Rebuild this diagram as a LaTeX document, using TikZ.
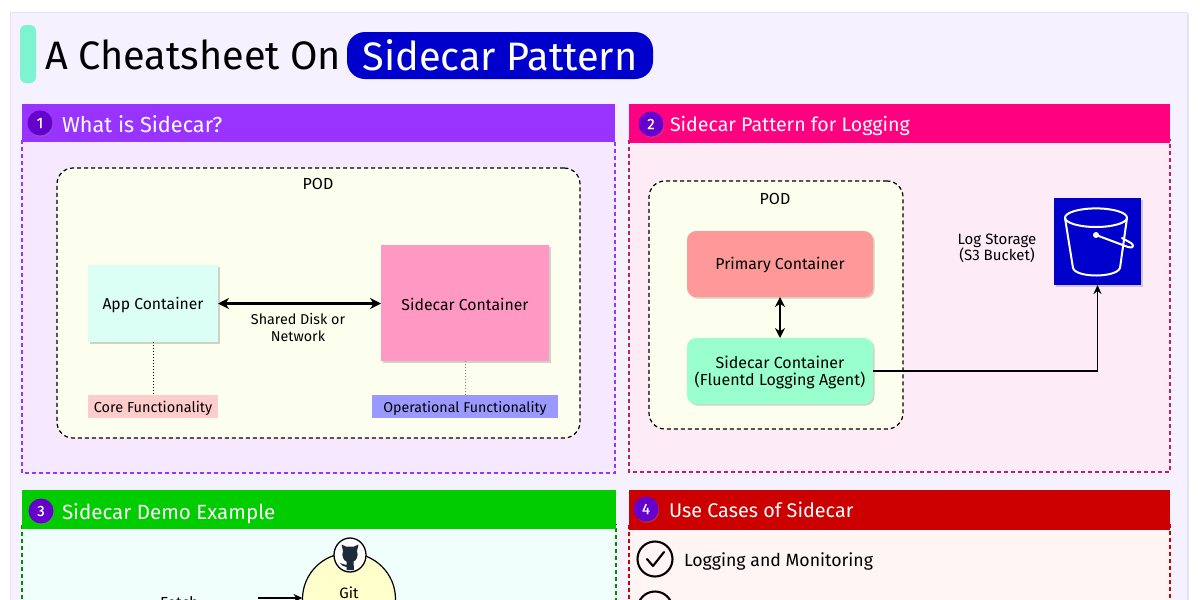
\documentclass[tikz,border=0pt]{standalone}
\usepackage{fontspec}
\setmainfont{Fira Sans}
\usetikzlibrary{shadows,arrows.meta,calc,shapes.geometric}
\definecolor{pagebg}{HTML}{F5F1FF}
\definecolor{pageedge}{HTML}{E6E2EF}
\definecolor{mint}{HTML}{7DF3D0}
\definecolor{deepblue}{HTML}{0000CC}
\definecolor{badge}{HTML}{6600CC}
\definecolor{hdpurple}{HTML}{9933FF}
\definecolor{hdpink}{HTML}{FF0080}
\definecolor{hdgreen}{HTML}{00CC00}
\definecolor{hdred}{HTML}{CC0000}
\definecolor{bdpurple}{HTML}{F6E8FF}
\definecolor{bdpink}{HTML}{FDEBF5}
\definecolor{bdgreen}{HTML}{F0FFFB}
\definecolor{bdred}{HTML}{FFF5F5}
\definecolor{podfill}{HTML}{FDFFEE}
\definecolor{appfill}{HTML}{DCFFF5}
\definecolor{sidefill}{HTML}{FF99C4}
\definecolor{corefill}{HTML}{FFCCCC}
\definecolor{opfill}{HTML}{9999FF}
\definecolor{primfill}{HTML}{FF9999}
\definecolor{sidegreen}{HTML}{99FFCC}
\definecolor{gitfill}{HTML}{FFFFCC}
\definecolor{catcol}{HTML}{1B2B3A}
\definecolor{dashpink}{HTML}{C0206A}
\tikzset{
  x=1pt,y=-1pt,
  every node/.style={inner sep=0pt,outer sep=0pt,align=center},
  lbl/.style={font=\fontsize{#1}{16.5}\selectfont,text=black,yshift=-1.5pt},
  lbl/.default=15,
  hdtext/.style={font=\fontsize{#1}{24}\selectfont,text=white,anchor=west},
  panelbody/.style={line width=1.2pt,dash pattern=on 4pt off 3pt},
  badgenode/.style={circle,fill=badge,minimum size=25pt,text=white,font=\fontsize{15}{15}\selectfont\medium,drop shadow={shadow xshift=1pt,shadow yshift=-1.5pt,opacity=.35}},
  podbox/.style={draw=black,fill=podfill,rounded corners=16pt,line width=1.2pt,dash pattern=on 4pt off 3pt,anchor=north west},
  soft/.style={drop shadow={shadow xshift=1.5pt,shadow yshift=-1.5pt,opacity=.35}},
  conn/.style={line width=1.6pt,-{Stealth[length=9pt,width=8pt]}},
  bothconn/.style={line width=2.2pt,{Stealth[length=11pt,width=11pt]}-{Stealth[length=11pt,width=11pt]}},
  dotline/.style={line width=1pt,dotted},
  checkring/.style={circle,draw=black,line width=2.1pt,minimum size=35pt},
}
\newcommand{\medium}{\addfontfeature{FakeBold=0.4}}
\newcommand{\boxat}[7][]{\node[anchor=north west,minimum width=#4pt,minimum height=#5pt,fill=#6,#1] (#7) at (#2,#3) {};}
\begin{document}
\begin{tikzpicture}
\useasboundingbox (0,0) rectangle (1200,600);
\clip (0,0) rectangle (1200,600);
\fill[white] (0,0) rectangle (1200,600);
\filldraw[fill=pagebg,draw=pageedge,line width=1pt] (10,12) rectangle (1187,610);
\draw[pageedge,line width=2.5pt] (1188,14) -- (1188,600);
% title
\fill[mint,rounded corners=6pt] (20,25) rectangle (36,83);
\node[anchor=west,font=\fontsize{39.7}{42}\selectfont] (title) at (45,55) {A Cheatsheet On};
\node[anchor=center,fill=deepblue,rounded corners=18pt,minimum width=306pt,minimum height=47pt,text=white,font=\fontsize{39.7}{42}\selectfont] (pill) at (500,55.5) {Sidecar Pattern};
% panels
\filldraw[fill=bdpurple,draw=hdpurple,panelbody] (22,140) rectangle (615,473);
\filldraw[fill=bdpink,draw=dashpink,panelbody] (629,140) rectangle (1170,472);
\filldraw[fill=bdgreen,draw=hdgreen!70!black,panelbody] (22,525) rectangle (616,620);
\filldraw[fill=bdred,draw=hdred,panelbody] (629,525) rectangle (1170,620);
\fill[hdpurple] (22,104) rectangle (615,142);
\fill[hdpink] (629,104) rectangle (1170,143);
\fill[hdgreen] (22,490) rectangle (616,529);
\fill[hdred] (629,490) rectangle (1170,530);
\node[badgenode] (b1) at (40,123) {1};
\node[badgenode] (b2) at (651,124) {2};
\node[badgenode] (b3) at (41,511) {3};
\node[badgenode] (b4) at (646,509) {4};
\node[hdtext=21.7] (h1) at (62,124) {What is Sidecar?};
\node[hdtext=19.6] (h2) at (670,125.5) {Sidecar Pattern for Logging};
\node[hdtext=20.6] (h3) at (62,513.5) {Sidecar Demo Example};
\node[hdtext=19.8] (h4) at (669,510) {Use Cases of Sidecar};
% panel 1
\node[podbox,minimum width=523pt,minimum height=270pt] (pod1) at (57,168) {};
\node[lbl=16] (pod1l) at (318,182.5) {POD};
\boxat[soft]{88}{265}{130}{77}{appfill}{app}
\node[lbl=15.7] (appl) at (app.center) {App Container};
\boxat[soft]{381}{245}{168}{116}{sidefill}{side}
\node[lbl=15.8] (sidel) at (side.center) {Sidecar Container};
\boxat{88}{395}{130}{23}{corefill}{core}
\node[lbl=14.5] (corel) at (core.center) {Core Functionality};
\boxat{372}{395}{186}{23}{opfill}{oper}
\node[lbl=14.2] (operl) at (oper.center) {Operational Functionality};
\draw[bothconn] (app.east) -- (app.east -| side.west);
\node[lbl=14.3] (shared) at (298,326) {Shared Disk or\\Network};
\draw[dotline] (app.south) -- (core.north);
\draw[dotline,black!50] (oper.north |- side.south) -- (oper.north);
% panel 2
\node[podbox,minimum width=254pt,minimum height=248pt] (pod2) at (649,181) {};
\node[lbl=16] (pod2l) at (775,197.5) {POD};
\boxat[soft,rounded corners=9pt]{687}{231}{186}{66}{primfill}{prim}
\node[lbl=15.8] (priml) at (prim.center) {Primary Container};
\boxat[soft,rounded corners=9pt]{687}{338}{186}{66}{sidegreen}{agent}
\node[lbl=16] (agentl) at (agent.center) {Sidecar Container\\(Fluentd Logging Agent)};
\draw[line width=1.8pt,{Stealth[length=10pt,width=10pt]}-{Stealth[length=10pt,width=10pt]}] (prim.south) -- (agent.north);
\boxat[soft]{1054}{198}{87}{87}{deepblue}{bucket}
\node[lbl=15] (logl) at (997,247) {Log Storage\\(S3 Bucket)};
\draw[conn] (agent.east) -| (bucket.south);
% bucket icon
\begin{scope}[white,line width=2pt,line join=round,line cap=round]
\draw (1096,217.7) ellipse [x radius=31,y radius=9.3];
\draw (1065,218) -- (1073,268) .. controls (1076,278) and (1116,278) .. (1120,268) -- (1127,218);
\draw (1096,235) -- (1128,247) .. controls (1134,249) and (1134,245) .. (1131,243) -- (1122,238);
\fill (1096,235) circle (3);
\end{scope}
% panel 3
\node[ellipse,draw=black,fill=gitfill,line width=1.2pt,minimum width=93pt,minimum height=92pt] (gitnode) at (349,599) {};
\node[lbl=15] (gitl) at (349,591) {Git};
\node[ellipse,draw=black,fill=white,line width=1.3pt,minimum width=32pt,minimum height=34pt] (gh) at (350,555) {};
% octocat
\fill[catcol] (343,551) -- (341.5,544.5) -- (346,546.5) -- (354,546.5) -- (358.5,544.5) -- (357,551)
  .. controls (359,556) and (356,561) .. (353.5,561.5) -- (354,570) -- (346.5,570) -- (346.5,567)
  .. controls (343,567) and (342,565) .. (340,563) .. controls (343,563.5) and (344,565) .. (346.5,565) -- (346.5,561.5)
  .. controls (344,561) and (341,556) .. (343,551) -- cycle;
\coordinate (fetchstart) at (258,598);
\node[lbl=16,anchor=west] (fetch) at (160,601) {Fetch};
\draw[conn] (fetchstart) -- (gitnode.west |- fetchstart);
% panel 4
\node[checkring] (c1) at (655,559) {};
\draw[line width=2.1pt,line cap=round,line join=round] (647,559) -- (653,566) -- (664,552);
\node[lbl=17.7,anchor=west] (uc1) at (684,560) {Logging and Monitoring};
\node[checkring] (c2) at (655,609) {};
\end{tikzpicture}
\end{document}
